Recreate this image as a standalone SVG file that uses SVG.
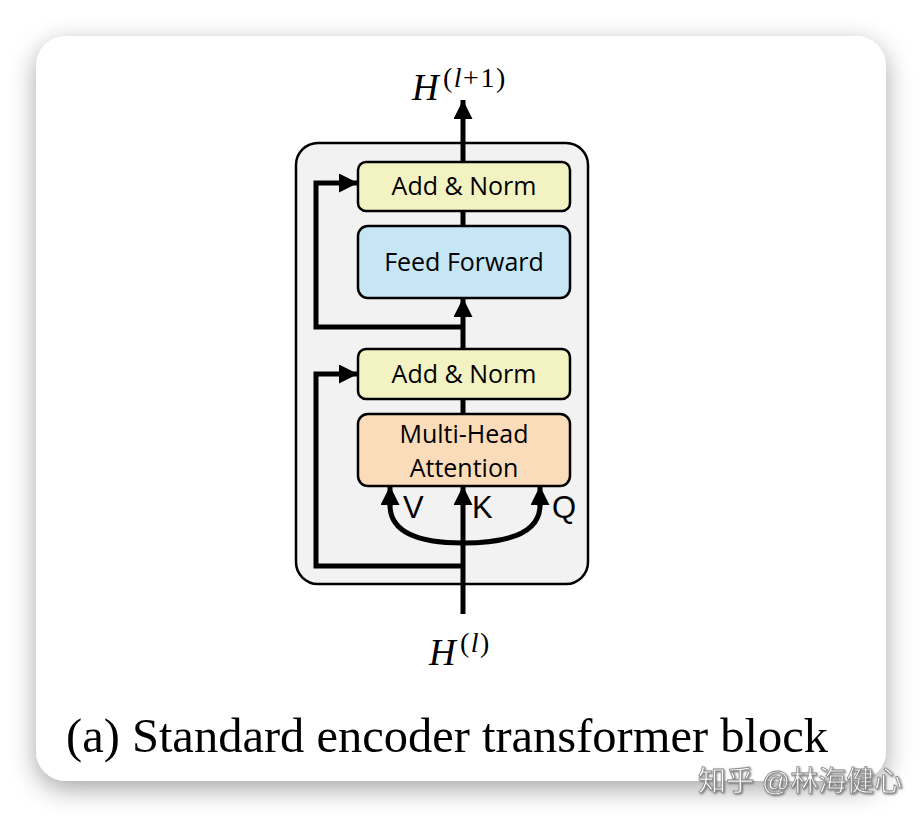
<svg xmlns="http://www.w3.org/2000/svg" width="922" height="818" viewBox="0 0 922 818">
<defs>
<filter id="shadow" x="-10%" y="-10%" width="120%" height="125%">
<feDropShadow dx="0" dy="8" stdDeviation="13" flood-color="#000" flood-opacity="0.35"/>
</filter>
<filter id="wm" x="-10%" y="-30%" width="120%" height="160%">
<feDropShadow dx="1" dy="1" stdDeviation="1" flood-color="#555" flood-opacity="0.8"/>
</filter>
<marker id="ah" viewBox="0 0 10 10" refX="10" refY="5" markerWidth="4" markerHeight="3.8" orient="auto" markerUnits="strokeWidth">
<path d="M0,0 L10,5 L0,10 Z" fill="#000"/>
</marker>
<style>
.box{stroke:#000;stroke-width:2.5}
.lbl{font-family:"Open Sans","Noto Sans",sans-serif;font-size:25px;fill:#000;text-anchor:middle}
.vkq{font-family:"Liberation Sans",Arial,sans-serif;font-size:31px;fill:#000}
.wire{fill:none;stroke:#000;stroke-width:5}
.math{font-family:"Liberation Serif","Times New Roman",serif;font-style:italic;fill:#000}
</style>
</defs>
<rect x="0" y="0" width="922" height="818" fill="#fff"/>
<rect id="card" x="36" y="36" width="850" height="745" rx="30" fill="#fff" filter="url(#shadow)"/>
<g id="block">
<rect x="296" y="143" width="292" height="441" rx="22" fill="#f2f2f2" stroke="#000" stroke-width="2.5"/>
</g>
<g id="connectors">
<line class="wire" x1="463" y1="162" x2="463" y2="100" marker-end="url(#ah)"/>
<line class="wire" x1="463" y1="211" x2="463" y2="226"/>
<line class="wire" x1="463" y1="349" x2="463" y2="298" marker-end="url(#ah)"/>
<line class="wire" x1="463" y1="399" x2="463" y2="414"/>
<polyline class="wire" points="463,327 316,327 316,183 358,183" marker-end="url(#ah)"/>
<line class="wire" x1="463" y1="614" x2="463" y2="486" marker-end="url(#ah)"/>
<polyline class="wire" points="463,566 316,566 316,374 358,374" marker-end="url(#ah)"/>
<path class="wire" d="M390,505 Q390,543 463,543"/>
<path class="wire" d="M540,505 Q540,543 463,543"/>
<line class="wire" x1="390" y1="506" x2="390" y2="486" marker-end="url(#ah)"/>
<line class="wire" x1="540" y1="506" x2="540" y2="486" marker-end="url(#ah)"/>
</g>
<g id="addnorm2">
<rect class="box" x="358" y="162" width="212" height="49" rx="8" fill="#f3f2c3"/>
<text class="lbl" x="464" y="195">Add &amp; Norm</text>
</g>
<g id="feedforward">
<rect class="box" x="358" y="226" width="212" height="72" rx="10" fill="#c6e6f5"/>
<text class="lbl" x="464" y="271">Feed Forward</text>
</g>
<g id="addnorm1">
<rect class="box" x="358" y="349" width="212" height="50" rx="8" fill="#f3f2c3"/>
<text class="lbl" x="464" y="383">Add &amp; Norm</text>
</g>
<g id="mha">
<rect class="box" x="358" y="414" width="212" height="72" rx="10" fill="#fbdcba"/>
<text class="lbl" x="464" y="443">Multi-Head</text>
<text class="lbl" x="464" y="477">Attention</text>
</g>
<g id="vkq">
<text class="vkq" x="403" y="518">V</text>
<text class="vkq" x="472" y="518">K</text>
<text class="vkq" x="552" y="518">Q</text>
</g>
<g id="hout">
<text class="math" x="412" y="100" font-size="37">H</text>
<text class="math" x="443" y="87" font-size="28" letter-spacing="1.5"><tspan font-style="normal">(</tspan>l<tspan font-style="normal">+1)</tspan></text>
</g>
<g id="hin">
<text class="math" x="429" y="665" font-size="37">H</text>
<text class="math" x="460" y="652" font-size="28" letter-spacing="1.5"><tspan font-style="normal">(</tspan>l<tspan font-style="normal">)</tspan></text>
</g>
<text id="caption" x="66" y="752" font-family="Liberation Serif,'Times New Roman',serif" font-size="48" textLength="762" lengthAdjust="spacingAndGlyphs" fill="#000">(a) Standard encoder transformer block</text>
<text id="watermark" x="698" y="791" font-family="'Liberation Sans','Noto Sans CJK SC',sans-serif" font-size="28" fill="#fff" stroke="#888" stroke-width="0.8" filter="url(#wm)">知乎 @林海健心</text>
</svg>
